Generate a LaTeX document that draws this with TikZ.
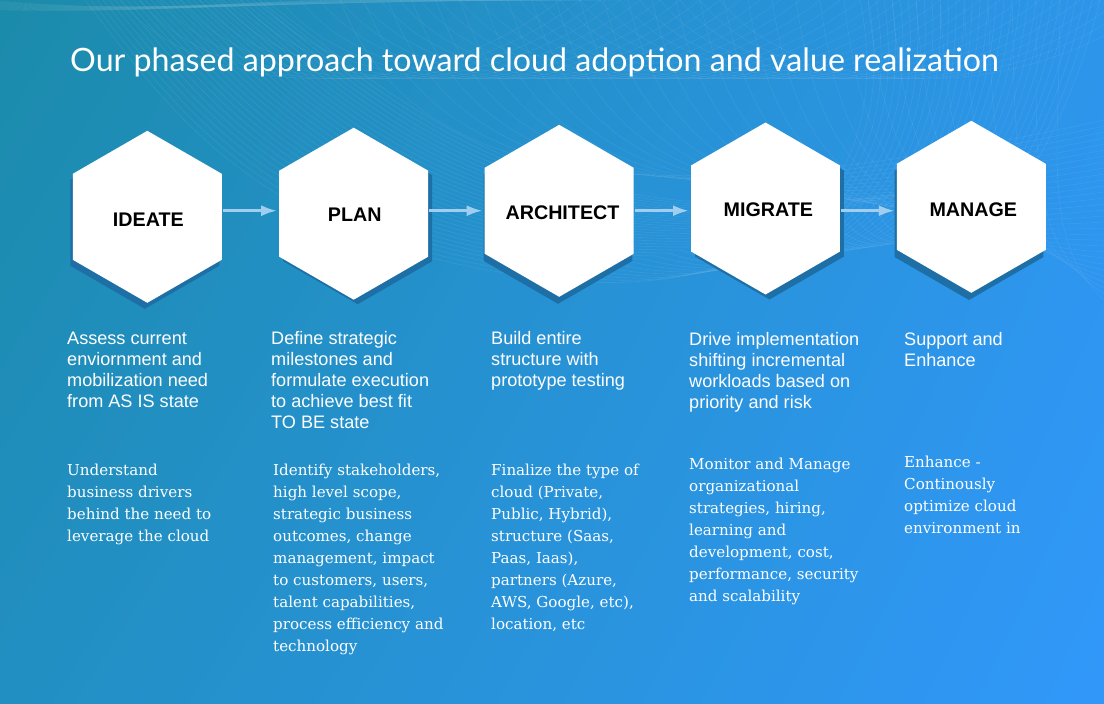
\documentclass[tikz,border=0pt]{standalone}
\usepackage{fontspec}
\usetikzlibrary{shapes.geometric,positioning,arrows.meta,shadings}
\setmainfont{Liberation Sans}
\newfontfamily\titlefont{Lato}
\newfontfamily\slabfont{DejaVu Serif}
\definecolor{bgleft}{HTML}{1B8BAA}
\definecolor{bgright}{HTML}{3198FA}
\definecolor{hexshadow}{HTML}{1D6FA6}
\definecolor{arrowblue}{HTML}{A0CEEE}
\tikzset{
	phase/.style={regular polygon, regular polygon sides=6, shape border rotate=30, minimum size=172pt, inner sep=0pt, outer sep=0pt, fill=white},
	phaseshadow/.style={phase, fill=hexshadow},
	phasename/.style={inner sep=0pt, text=black, font=\fontsize{19.7}{20}\selectfont\bfseries},
	step arrow/.style={draw=arrowblue, line width=3pt, -{Latex[length=16pt,width=11pt]}, shorten >=2pt, shorten <=1pt},
	headline/.style={anchor=north west, align=left, inner sep=0pt, text=white, font=\fontsize{18.1}{21}\selectfont},
	detail/.style={anchor=north west, align=left, inner sep=0pt, text=white, font=\slabfont\fontsize{15.1}{22}\selectfont},
}
\begin{document}
\begin{tikzpicture}[x=1pt, y=-1pt]
	\useasboundingbox (0,0) rectangle (1104,704);
	\shade[lower left=bgleft!70!bgright, upper left=bgleft, upper right=bgright!80!bgleft, lower right=bgright] (0,0) rectangle (1104,704);

	% faint line pattern behind the title
	\begin{scope}
	\clip (0,0) rectangle (1104,400);
	\foreach \i in {0,...,30} {
		\draw[white, opacity=0.08, line width=0.6pt] (85+6*\i,0) .. controls (170+8*\i,110) and (260+10*\i,250) .. (560+12*\i,280-3*\i) .. controls (760+6*\i,300) and (900+5*\i,200) .. (860+8*\i,0);
		\draw[white, opacity=0.07, line width=0.6pt] (340+24*\i,0) .. controls (400+22*\i,150) and (560+16*\i,240) .. (1104,120+6*\i);
		\draw[white, opacity=0.07, line width=0.6pt] (120+20*\i,0) .. controls (200+20*\i,100) and (420+20*\i,110) .. (560+20*\i,0);
		\draw[white, opacity=0.03, line width=0.6pt] (0,1+0.3*\i) .. controls (150,14) and (260,0) .. (330+10*\i,0);
	}
	\end{scope}

	\node[inner sep=0pt, text=white, anchor=west, font=\titlefont\fontsize{32.2}{33}\selectfont] (title) at (70,62) {Our phased approach toward cloud adoption and value realization};

	\node[phaseshadow] (ideateshadow) at (144.8,222.8) {};
	\node[phaseshadow] (planshadow) at (357.7,218.2) {};
	\node[phaseshadow] (architectshadow) at (558,217.8) {};
	\node[phaseshadow] (migrateshadow) at (769.5,213.5) {};
	\node[phaseshadow] (manageshadow) at (969,214) {};

	\node[phase] (ideate) at (147.3,216.8) {};
	\node[phase] (plan) at (353.7,213.7) {};
	\node[phase] (architect) at (559.2,210.8) {};
	\node[phase] (migrate) at (765.5,208.5) {};
	\node[phase] (manage) at (971.3,206.8) {};

	\node[phasename] (ideatename) at (148.3,219.5) {IDEATE};
	\node[phasename] (planname) at (354.7,214.5) {PLAN};
	\node[phasename] (architectname) at (562.5,213) {ARCHITECT};
	\node[phasename] (migratename) at (768.3,209.5) {MIGRATE};
	\node[phasename] (managename) at (973.3,209.5) {MANAGE};

	\draw[step arrow] (ideate.east |- 0,210.7) -- (plan.west |- 0,210.7);
	\draw[step arrow] (plan.east |- 0,210.7) -- (architect.west |- 0,210.7);
	\draw[step arrow] (architect.east |- 0,210.7) -- (migrate.west |- 0,210.7);
	\draw[step arrow] (migrate.east |- 0,210.7) -- (manage.west |- 0,210.7);

	\node[headline] (ideatetop) at (67,332) {Assess current\\enviornment and\\mobilization need\\from AS IS state};
	\node[headline] (plantop) at (271,331) {Define strategic\\milestones and\\formulate execution\\to achieve best fit\\TO BE state};
	\node[headline] (architecttop) at (491,331) {Build entire\\structure with\\prototype testing};
	\node[headline] (migratetop) at (689,332) {Drive implementation\\shifting incremental\\workloads based on\\priority and risk};
	\node[headline] (managetop) at (904,332) {Support and\\Enhance};

	\node[detail] (ideatenote) at (67,463.5) {Understand\\business drivers\\behind the need to\\leverage the cloud};
	\node[detail] (plannote) at (273,463.5) {Identify stakeholders,\\high level scope,\\strategic business\\outcomes, change\\management, impact\\to customers, users,\\talent capabilities,\\process efficiency and\\technology};
	\node[detail] (architectnote) at (491,463.5) {Finalize the type of\\cloud (Private,\\Public, Hybrid),\\structure (Saas,\\Paas, Iaas),\\partners (Azure,\\AWS, Google, etc),\\location, etc};
	\node[detail] (migratenote) at (689,458) {Monitor and Manage\\organizational\\strategies, hiring,\\learning and\\development, cost,\\performance, security\\and scalability};
	\node[detail] (managenote) at (904,456) {Enhance -\\Continously\\optimize cloud\\environment in};
\end{tikzpicture}
\end{document}
